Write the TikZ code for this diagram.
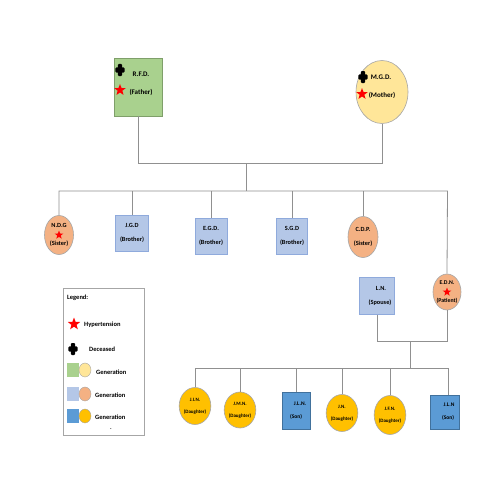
\documentclass[tikz,border=0pt]{standalone}
\usepackage{fontspec}
\setmainfont{Carlito}
\usetikzlibrary{shapes.geometric}
\definecolor{gOne}{HTML}{A9D18E}
\definecolor{gOneB}{HTML}{7F9F6A}
\definecolor{yOne}{HTML}{FFE699}
\definecolor{yOneB}{HTML}{A6A6A6}
\definecolor{bTwo}{HTML}{B4C7E7}
\definecolor{bTwoB}{HTML}{8FAADC}
\definecolor{oTwo}{HTML}{F4B183}
\definecolor{oTwoB}{HTML}{A6A6A6}
\definecolor{bThree}{HTML}{5B9BD5}
\definecolor{bThreeB}{HTML}{41719C}
\definecolor{yThree}{HTML}{FFC000}
\definecolor{yThreeB}{HTML}{A6A6A6}
\definecolor{connc}{HTML}{909090}
\tikzset{
  conn/.style={draw=connc, line width=0.8pt},
  rectg1/.style={rectangle, fill=gOne, draw=gOneB, line width=0.6pt, inner sep=0pt},
  ellg1/.style={ellipse, fill=yOne, draw=yOneB, line width=0.6pt, inner sep=0pt},
  rectg2/.style={rectangle, fill=bTwo, draw=bTwoB, line width=0.6pt, inner sep=0pt, minimum width=32pt, minimum height=36pt, font=\bfseries\fontsize{6.3}{7}\selectfont, align=center},
  ellg2/.style={ellipse, fill=oTwo, draw=oTwoB, line width=0.6pt, inner sep=0pt, minimum width=30pt, minimum height=40pt, font=\bfseries\fontsize{6.3}{7}\selectfont, align=center},
  rectg3/.style={rectangle, fill=bThree, draw=bThreeB, line width=0.6pt, inner sep=0pt, minimum width=29pt, minimum height=36pt, font=\bfseries\fontsize{5.5}{6}\selectfont, align=center},
  ellg3/.style={ellipse, fill=yThree, draw=yThreeB, line width=0.6pt, inner sep=0pt, minimum width=30pt, minimum height=38pt, font=\bfseries\fontsize{5}{6}\selectfont, align=center},
  hstar/.style={star, star points=5, star point ratio=2.4, fill=red, draw=none, inner sep=0pt, minimum size=#1},
  hstar/.default=12pt,
  txt/.style={inner sep=0pt, font=\bfseries\fontsize{7}{8}\selectfont},
  legtxt/.style={inner sep=0pt, anchor=west, font=\bfseries\fontsize{6.5}{7}\selectfont},
  legsq/.style={rectangle, inner sep=0pt, minimum width=12pt, minimum height=14pt},
  legci/.style={ellipse, inner sep=0pt, minimum width=12pt, minimum height=14pt},
}
\newcommand{\deccross}[1]{%
  \begin{scope}[shift={#1}]
    \fill[black, rounded corners=1pt] (-2.2,-6) rectangle (2.2,6);
    \fill[black, rounded corners=1pt] (-4.6,-2.6) rectangle (4.6,2.6);
  \end{scope}}
\begin{document}
\begin{tikzpicture}[x=1pt,y=-1pt]
\useasboundingbox (0,0) rectangle (495,495);
\fill[white] (0,0) rectangle (495,495);

% generation 1
\node[rectg1, minimum width=48pt, minimum height=58pt] (rfd) at (138,87) {};
\deccross{(120,70)}
\node[hstar] (s1) at (120,90) {};
\node[txt] (rfdt) at (141,74) {R.F.D.};
\node[txt] (rfdr) at (141,92) {(Father)};

\node[ellg1, minimum width=52pt, minimum height=63pt] (mgd) at (382,92) {};
\deccross{(363,77)}
\node[hstar] (s2) at (362,94) {};
\node[txt] (mgdt) at (381,77) {M.G.D.};
\node[txt] (mgdr) at (382,95) {(Mother)};

% generation 2
\node[ellg2, minimum width=29pt, minimum height=39pt] (ndg) at (59,235) {};
\node[txt, font=\bfseries\fontsize{6.3}{7}\selectfont] (ndgt) at (59,225) {N.D.G};
\node[hstar=9pt] (s3) at (59,235) {};
\node[txt, font=\bfseries\fontsize{6.3}{7}\selectfont] (ndgr) at (59,244) {(Sister)};

\node[rectg2, minimum width=33pt] (jgd) at (132,233) {J.G.D\\[7pt](Brother)};
\node[rectg2, minimum width=32pt] (egd) at (211,236) {E.G.D.\\[7pt](Brother)};
\node[rectg2, minimum width=31pt] (sgd) at (292,236) {S.G.D\\[7pt](Brother)};
\node[ellg2, minimum width=30pt, minimum height=41pt] (cdp) at (363,237) {C.D.P.\\[7pt](Sister)};

\node[rectg2, minimum width=35pt, minimum height=37pt] (ln) at (377,296) {\hspace*{8pt}L.N.\\[7pt]\hspace*{6pt}(Spouse)};
\node[ellg2, minimum width=28pt, minimum height=36pt] (edn) at (447,292) {};
\node[txt, font=\bfseries\fontsize{5.8}{6}\selectfont] (ednt) at (447,283) {E.D.N.};
\node[hstar=9pt] (s4) at (447,292) {};
\node[txt, font=\bfseries\fontsize{5.8}{6}\selectfont] (ednr) at (447,301) {(Patient)};

% generation 3
\node[ellg3, minimum width=29pt, minimum height=37pt] (jin) at (195,406) {J.I.N.\\[6pt](Daughter)};
\node[ellg3, minimum width=28pt, minimum height=36pt] (jmn) at (240,410) {J.M.N.\\[6pt](Daughter)};
\node[rectg3, minimum width=28pt, minimum height=37pt] (jln) at (296,411) {\hspace*{8pt}J.L.N.\\[7pt](Son)};
\node[ellg3, minimum width=30pt, minimum height=37pt] (jn) at (342,413) {J.N.\\[6pt](Daughter)};
\node[ellg3, minimum width=31pt, minimum height=39pt] (jfn) at (390,415) {J.F.N.\\[6pt](Daughter)};
\node[rectg3, minimum width=29pt, minimum height=34pt] (jlnb) at (445,412) {\hspace*{8pt}J.L.N\\[7pt]\hspace*{6pt}(Son)};

% connectors
\coordinate (par) at (246,163);
\coordinate (sib) at (246,191);
\draw[conn] (rfd.south) |- (par);
\draw[conn] (mgd.south) |- (par);
\draw[conn] (par) -- (sib);
\coordinate (edntop) at (447.5,191);
\draw[conn] (ndg.north) -- (ndg.north |- sib) -- (edntop) -- (edn.north);
\draw[conn] (jgd.north) -- (jgd.north |- sib);
\draw[conn] (egd.north) -- (egd.north |- sib);
\draw[conn] (sgd.north) -- (sgd.north |- sib);
\draw[conn] (cdp.north) -- (cdp.north |- sib);

\coordinate (cpl) at (410,341);
\coordinate (chl) at (410,368);
\draw[conn] (ln.south) |- (cpl);
\draw[conn] (edn.south) |- (cpl);
\draw[conn] (cpl) -- (chl);
\coordinate (chr) at (448,368);
\draw[conn] (jin.north) -- (jin.north |- chl) -- (chr) -- (jlnb.north -| chr);
\draw[conn] (jmn.north) -- (jmn.north |- chl);
\draw[conn] (jln.north) -- (jln.north |- chl);
\draw[conn] (jn.north) -- (jn.north |- chl);
\draw[conn] (jfn.north) -- (jfn.north |- chl);

% legend
\node[draw=yOneB, line width=0.6pt, rectangle, minimum width=81pt, minimum height=147pt, inner sep=0pt] (legend) at (103.5,361.5) {};
\node[legtxt] (legt) at (67,298) {Legend:};
\node[hstar=13pt] (ls) at (74,324) {};
\node[legtxt] (lst) at (84,325) {Hypertension};
\deccross{(73,349)}
\node[legtxt] (ldt) at (89,349) {Deceased};
\node[legsq, fill=gOne] (l1a) at (73,370) {};
\node[legci, fill=yOne, draw=yOneB, line width=0.4pt] (l1b) at (85,370) {};
\node[legtxt] (l1t) at (96,372) {Generation};
\node[legsq, fill=bTwo] (l2a) at (73,394) {};
\node[legci, fill=oTwo, draw=oTwoB, line width=0.4pt] (l2b) at (85,394) {};
\node[legtxt] (l2t) at (95,395) {Generation};
\node[legsq, fill=bThree] (l3a) at (73,416) {};
\node[legci, fill=yThree, draw=yThreeB, line width=0.4pt] (l3b) at (85,416) {};
\node[legtxt] (l3t) at (95,417) {Generation};
\node[inner sep=0pt, font=\bfseries\fontsize{6}{6}\selectfont] (ldot) at (111,429) {.};
\end{tikzpicture}
\end{document}
